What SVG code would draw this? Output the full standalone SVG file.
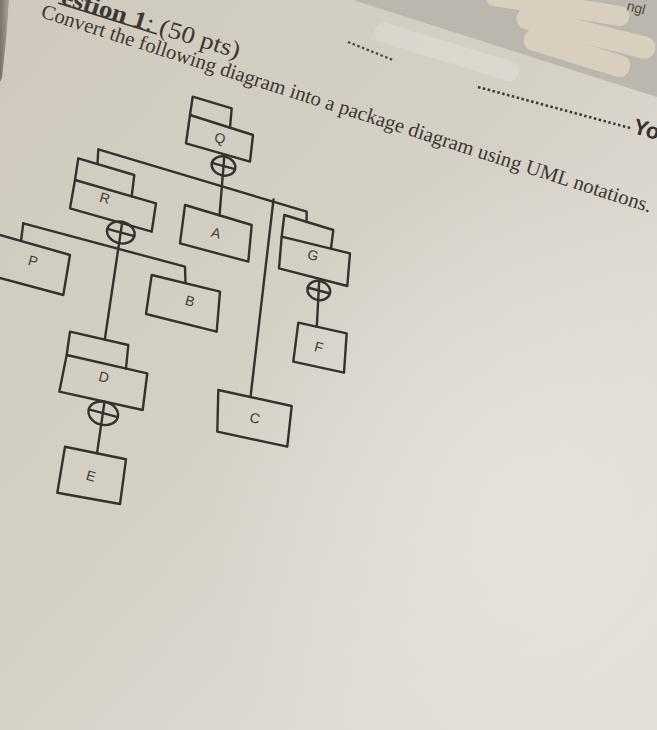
<svg xmlns="http://www.w3.org/2000/svg" width="657" height="730" viewBox="0 0 657 730">
  <defs>
    <linearGradient id="paper" x1="0" y1="0" x2="1" y2="1">
      <stop offset="0" stop-color="#cfc9bd"/>
      <stop offset="0.45" stop-color="#d5d0c6"/>
      <stop offset="0.75" stop-color="#dedbd3"/>
      <stop offset="1" stop-color="#e2dfd8"/>
    </linearGradient>
    <radialGradient id="glare" cx="0.82" cy="0.72" r="0.5">
      <stop offset="0" stop-color="#e6e3dd" stop-opacity="0.9"/>
      <stop offset="1" stop-color="#e6e3dd" stop-opacity="0"/>
    </radialGradient>
    <linearGradient id="edge" x1="0" y1="0" x2="1" y2="0">
      <stop offset="0" stop-color="#7a7468"/>
      <stop offset="1" stop-color="#a8a296"/>
    </linearGradient>
  </defs>
  <style>
    .box { fill: none; stroke: #35312d; stroke-width: 2.4; stroke-linejoin: round; stroke-linecap: round; }
    .con { fill: none; stroke: #35312d; stroke-width: 2.4; stroke-linecap: round; stroke-linejoin: round; }
    .lbl { font-family: "Liberation Sans", Arial, sans-serif; font-size: 14px; fill: #403c37; text-anchor: middle; }
    .title { font-family: "Liberation Serif", "Times New Roman", serif; fill: #3b3732; }
    .smear { fill: #d8cfbe; }
  </style>

  <!-- paper background -->
  <rect x="0" y="0" width="657" height="730" fill="url(#paper)"/>
  <rect x="0" y="0" width="657" height="730" fill="url(#glare)"/>
  <polygon points="0,0 9,0 6,40 2,78 0,82" fill="url(#edge)"/>

  <!-- sheet above at top right -->
  <polygon points="353,0 657,0 657,97" fill="#bcb7ae"/>
  <g class="smear">
    <rect x="485" y="-4" width="145" height="20" rx="9" transform="rotate(9 557 6)"/>
    <rect x="515" y="22" width="142" height="22" rx="10" transform="rotate(14 586 33)"/>
    <rect x="522" y="42" width="110" height="22" rx="10" transform="rotate(17 577 53)"/>
  </g>
  <rect x="372" y="42" width="150" height="20" rx="9" fill="#dcd8cf" opacity="0.8" transform="rotate(17 447 52)"/>
  <text x="626" y="10" font-family="Liberation Sans, Arial, sans-serif" font-size="14" fill="#4f4a44" transform="rotate(14 626 10)">ngl</text>
  <line x1="348" y1="42" x2="393" y2="60" stroke="#4a4540" stroke-width="2.2" stroke-dasharray="2.5 2.5"/>

  <!-- header texts -->
  <text class="title" font-size="24" transform="translate(60,3.5) rotate(17.2)" textLength="186" lengthAdjust="spacingAndGlyphs"><tspan font-weight="bold">estion 1</tspan><tspan>: (50 pts)</tspan></text>
  <line x1="58" y1="3" x2="157" y2="34" stroke="#3b3732" stroke-width="1.8"/>
  <text class="title" font-size="20.5" transform="translate(40,17) rotate(17.8)" textLength="640" lengthAdjust="spacingAndGlyphs">Convert the following diagram into a package diagram using UML notations.</text>
  <line x1="478" y1="87" x2="630" y2="128" stroke="#403b36" stroke-width="2.6" stroke-dasharray="2.5 2.5"/>
  <text x="632" y="133" font-family="Liberation Sans, Arial, sans-serif" font-size="22" font-weight="bold" fill="#35312d" transform="rotate(15 632 133)">You</text>

  <!-- connectors -->
  <g id="connectors">
    <polyline class="con" points="97.5,164 98.3,149.3 306.7,211.7 306.5,222"/>
    <line class="con" x1="273.5" y1="199.5" x2="250.5" y2="397"/>
    <polyline class="con" points="185.5,283 185,266.7 23.3,223.3"/>
    <!-- Q contains A -->
    <ellipse class="con" cx="223.5" cy="166" rx="12" ry="9.5" transform="rotate(15 223.5 166)"/>
    <line class="con" x1="224.3" y1="156.5" x2="219.5" y2="215.5"/>
    <line class="con" x1="211.9" y1="162.9" x2="235.1" y2="169.1"/>
    <!-- R contains D -->
    <ellipse class="con" cx="120.8" cy="232.5" rx="14" ry="10.8" transform="rotate(15 120.8 232.5)"/>
    <line class="con" x1="122.3" y1="221.7" x2="104.8" y2="339.5"/>
    <line class="con" x1="107.3" y1="228.9" x2="134.3" y2="236.1"/>
    <!-- D contains E -->
    <ellipse class="con" cx="103.3" cy="413.3" rx="15" ry="11.5" transform="rotate(15 103.3 413.3)"/>
    <line class="con" x1="104.5" y1="401.8" x2="97" y2="453.3"/>
    <line class="con" x1="88.8" y1="409.4" x2="117.8" y2="417.2"/>
    <!-- G contains F -->
    <ellipse class="con" cx="318.8" cy="290.5" rx="11.5" ry="9.5" transform="rotate(15 318.8 290.5)"/>
    <line class="con" x1="319.2" y1="281" x2="316.8" y2="326.8"/>
    <line class="con" x1="307.7" y1="287.5" x2="329.9" y2="293.5"/>
  </g>

  <!-- nodes -->
  <g id="Q">
    <polyline class="box" points="190,115 192.7,96.7 231.7,108.3 230,127.7"/>
    <polygon class="box" points="190,115 253,135 250,161.7 186,143.3"/>
    <text class="lbl" transform="translate(220,138) rotate(15)" y="5">Q</text>
  </g>
  <g id="R">
    <polyline class="box" points="75,180 78.3,158.3 134.3,175 131.7,196.3"/>
    <polygon class="box" points="75,180 156,203.3 151.7,231.7 70,208.3"/>
    <text class="lbl" transform="translate(105,198) rotate(15)" y="5">R</text>
  </g>
  <g id="A">
    <polygon class="box" points="185,205 251.7,225 248.3,261.7 180,243.3"/>
    <text class="lbl" transform="translate(216,233) rotate(15)" y="5">A</text>
  </g>
  <g id="P">
    <line class="box" x1="23.3" y1="223.3" x2="21" y2="241"/>
    <polygon class="box" points="-10,232.1 70,255 63.3,295 -10,275.3"/>
    <text class="lbl" transform="translate(33,261) rotate(15)" y="5">P</text>
  </g>
  <g id="B">
    <polygon class="box" points="151.7,275 220,291.7 216.7,331.7 146,314"/>
    <text class="lbl" transform="translate(190,301) rotate(15)" y="5">B</text>
  </g>
  <g id="G">
    <polyline class="box" points="281.7,236.7 284.3,215 333.3,230 331,248.7"/>
    <polygon class="box" points="281.7,236.7 350,253.3 347.3,286 279,268.3"/>
    <text class="lbl" transform="translate(313,255) rotate(15)" y="5">G</text>
  </g>
  <g id="F">
    <polygon class="box" points="298.3,322.7 346.7,333.3 344,372.7 293.3,361.7"/>
    <text class="lbl" transform="translate(319,347) rotate(15)" y="5">F</text>
  </g>
  <g id="D">
    <polyline class="box" points="66.7,355 70,331.7 128.3,345 126,368.5"/>
    <polygon class="box" points="66.7,355 147.3,373.3 142.7,410 59.3,391.7"/>
    <text class="lbl" transform="translate(104,377) rotate(15)" y="5">D</text>
  </g>
  <g id="E">
    <polygon class="box" points="65,446.7 126,459.3 120,504 57.3,492.7"/>
    <text class="lbl" transform="translate(91,476) rotate(15)" y="5">E</text>
  </g>
  <g id="C">
    <polygon class="box" points="218.3,390 291.7,406 287.3,446.7 217.3,431.7"/>
    <text class="lbl" transform="translate(255,418) rotate(15)" y="5">C</text>
  </g>
</svg>
